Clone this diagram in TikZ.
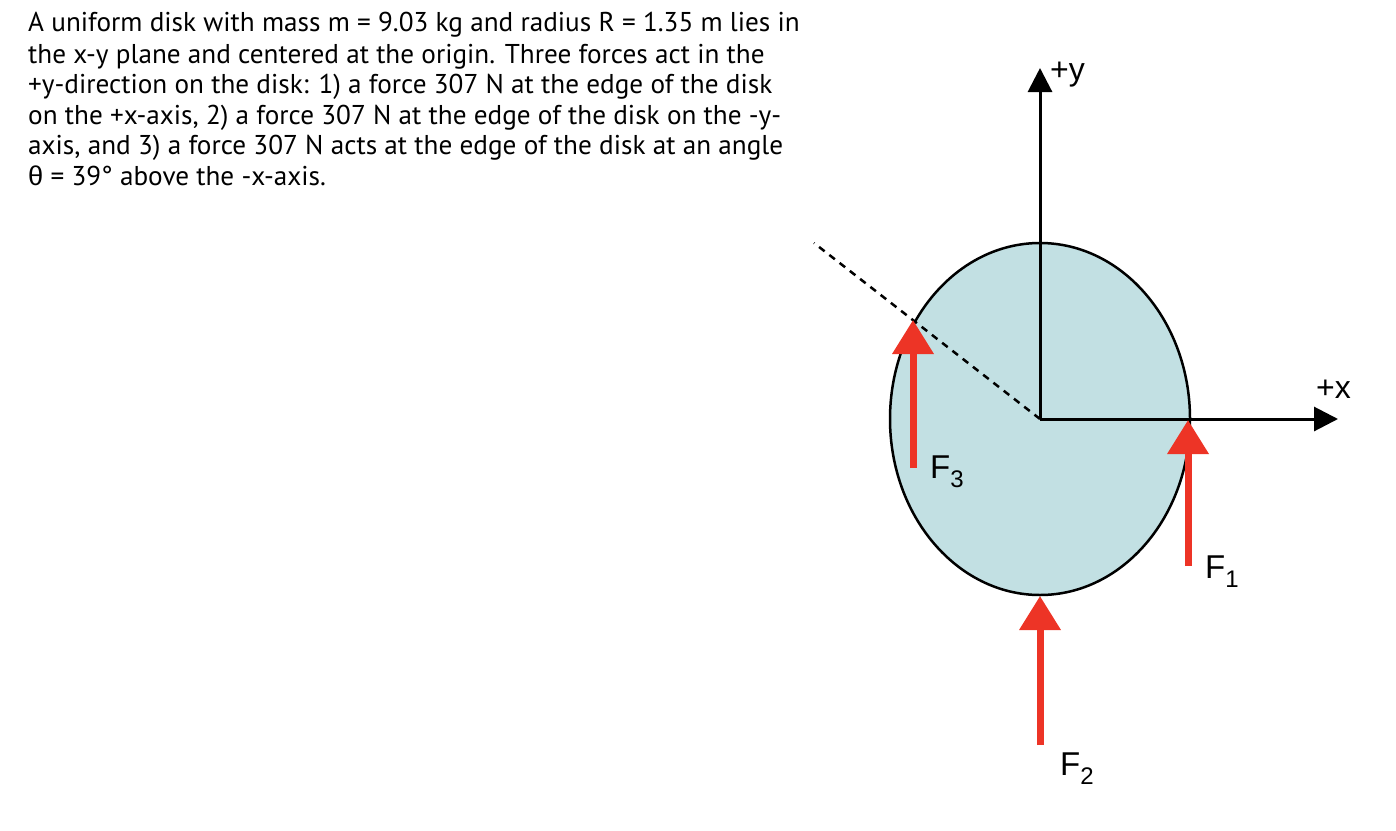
\documentclass[tikz,border=0pt]{standalone}
\usepackage{fontspec}
\setmainfont{PT Sans}
\newfontfamily\lab{Liberation Sans}
\usetikzlibrary{arrows.meta}
\definecolor{disk}{RGB}{194,224,227}
\definecolor{frc}{RGB}{237,52,38}
\tikzset{
  txt/.style={anchor=base west,inner sep=0pt,font=\fontsize{27.2}{30}\selectfont},
  force/.style={draw=frc,line width=7pt,-{Triangle[width=40pt,length=34pt]}},
  axis/.style={draw=black,line width=3pt,-{Triangle[width=24pt,length=24pt]}},
  flab/.style={font=\lab\fontsize{33}{33}\selectfont,anchor=base west,inner sep=0pt}
}
\begin{document}
\begin{tikzpicture}[x=1pt,y=-1pt]
\useasboundingbox (0,0) rectangle (1396,830);
\node[txt] (l1) at (28,31) {A uniform disk with mass m = 9.03 kg and radius R = 1.35 m lies in};
\node[txt] (l2) at (28,63) {the x-y plane and centered at the origin. Three forces act in the};
\node[txt] (l3) at (28,93) {+y-direction on the disk: 1) a force 307 N at the edge of the disk};
\node[txt] (l4) at (28,124) {on the +x-axis, 2) a force 307 N at the edge of the disk on the -y-};
\node[txt] (l5) at (28,154) {axis, and 3) a force 307 N acts at the edge of the disk at an angle};
\node[txt] (l6) at (28,185) {{\lab θ} = 39° above the -x-axis.};
\draw[line width=2.5pt,fill=disk] (1040,419) ellipse [x radius=150,y radius=176];
\coordinate (O) at (1040,419);
\coordinate (ytip) at (1040,68);
\coordinate (xtip) at (1338,419);
\coordinate (dend) at (814,243);
\draw[axis] (O) -- (ytip);
\draw[axis] (O) -- (xtip);
\draw[line width=2.5pt,dash pattern=on 7pt off 6pt] (O) -- (dend);
\node[anchor=base west,inner sep=0pt,font=\lab\fontsize{32}{32}\selectfont] (py) at (1050,80) {+y};
\node[anchor=base west,inner sep=0pt,font=\lab\fontsize{32}{32}\selectfont] (px) at (1316,398) {+x};
\coordinate (f3a) at (913,468); \coordinate (f3b) at (913,320);
\coordinate (f1a) at (1188,566); \coordinate (f1b) at (1188,420);
\coordinate (f2a) at (1040,745); \coordinate (f2b) at (1040,596);
\draw[force] (f3a) -- (f3b);
\draw[force] (f1a) -- (f1b);
\draw[force] (f2a) -- (f2b);
\node[flab] (F3) at (930,478) {F\raisebox{-9pt}{\fontsize{24}{24}\selectfont 3}};
\node[flab] (F1) at (1205,578) {F\raisebox{-9pt}{\fontsize{24}{24}\selectfont 1}};
\node[flab] (F2) at (1060,775) {F\raisebox{-9pt}{\fontsize{24}{24}\selectfont 2}};
\end{tikzpicture}
\end{document}
